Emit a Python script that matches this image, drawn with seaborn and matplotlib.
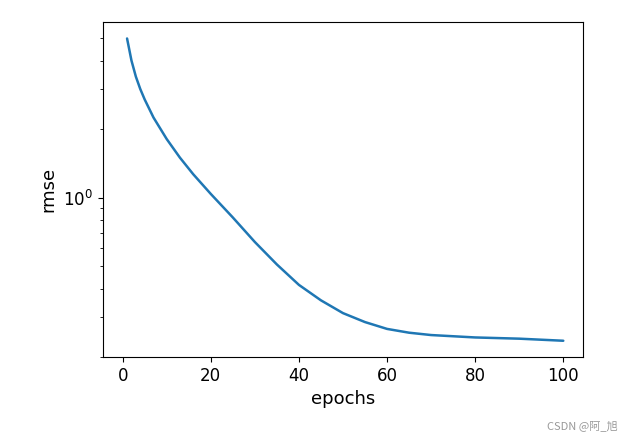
import matplotlib
matplotlib.use("Agg")
import matplotlib.pyplot as plt
import seaborn as sns

# values
epochs = [1, 2, 3, 4, 5, 7, 10, 13, 16, 20, 25, 30, 35, 40, 45, 50, 55, 60, 65, 70, 80, 90, 100]
rmse = [5.0, 4.0, 3.4, 3.0, 2.7, 2.25, 1.81, 1.5, 1.27, 1.04, 0.82, 0.64, 0.51, 0.415, 0.355, 0.312, 0.285, 0.266, 0.256, 0.25, 0.244, 0.241, 0.236]

sns.set_style("ticks")
plt.rcParams['font.family'] = ['DejaVu Sans', 'Noto Sans CJK SC']
plt.rcParams['text.color'] = 'black'
plt.rcParams['axes.labelcolor'] = 'black'
plt.rcParams['xtick.color'] = 'black'
plt.rcParams['ytick.color'] = 'black'

fig = plt.figure(figsize=(6.27, 4.42), dpi=100)
ax = fig.add_axes([0.164, 0.192, 0.766, 0.758])
sns.lineplot(x=epochs, y=rmse, ax=ax, color='#1f77b4', linewidth=1.8)
ax.set_yscale('log')
ax.set_xlim(-4.5, 104.5)
ax.set_ylim(0.2, 5.9)
ax.set_xticks([0, 20, 40, 60, 80, 100])
ax.set_xlabel('epochs', fontsize=13)
ax.set_ylabel('rmse', fontsize=13)
ax.tick_params(labelsize=12)
for s in ax.spines.values():
    s.set_color('black')
fig.text(0.985, 0.025, 'CSDN @阿_旭', ha='right', va='bottom', fontsize=8, color='#999999',
         family=['Noto Sans CJK SC', 'DejaVu Sans'])
fig.savefig('out.png', dpi=100)
